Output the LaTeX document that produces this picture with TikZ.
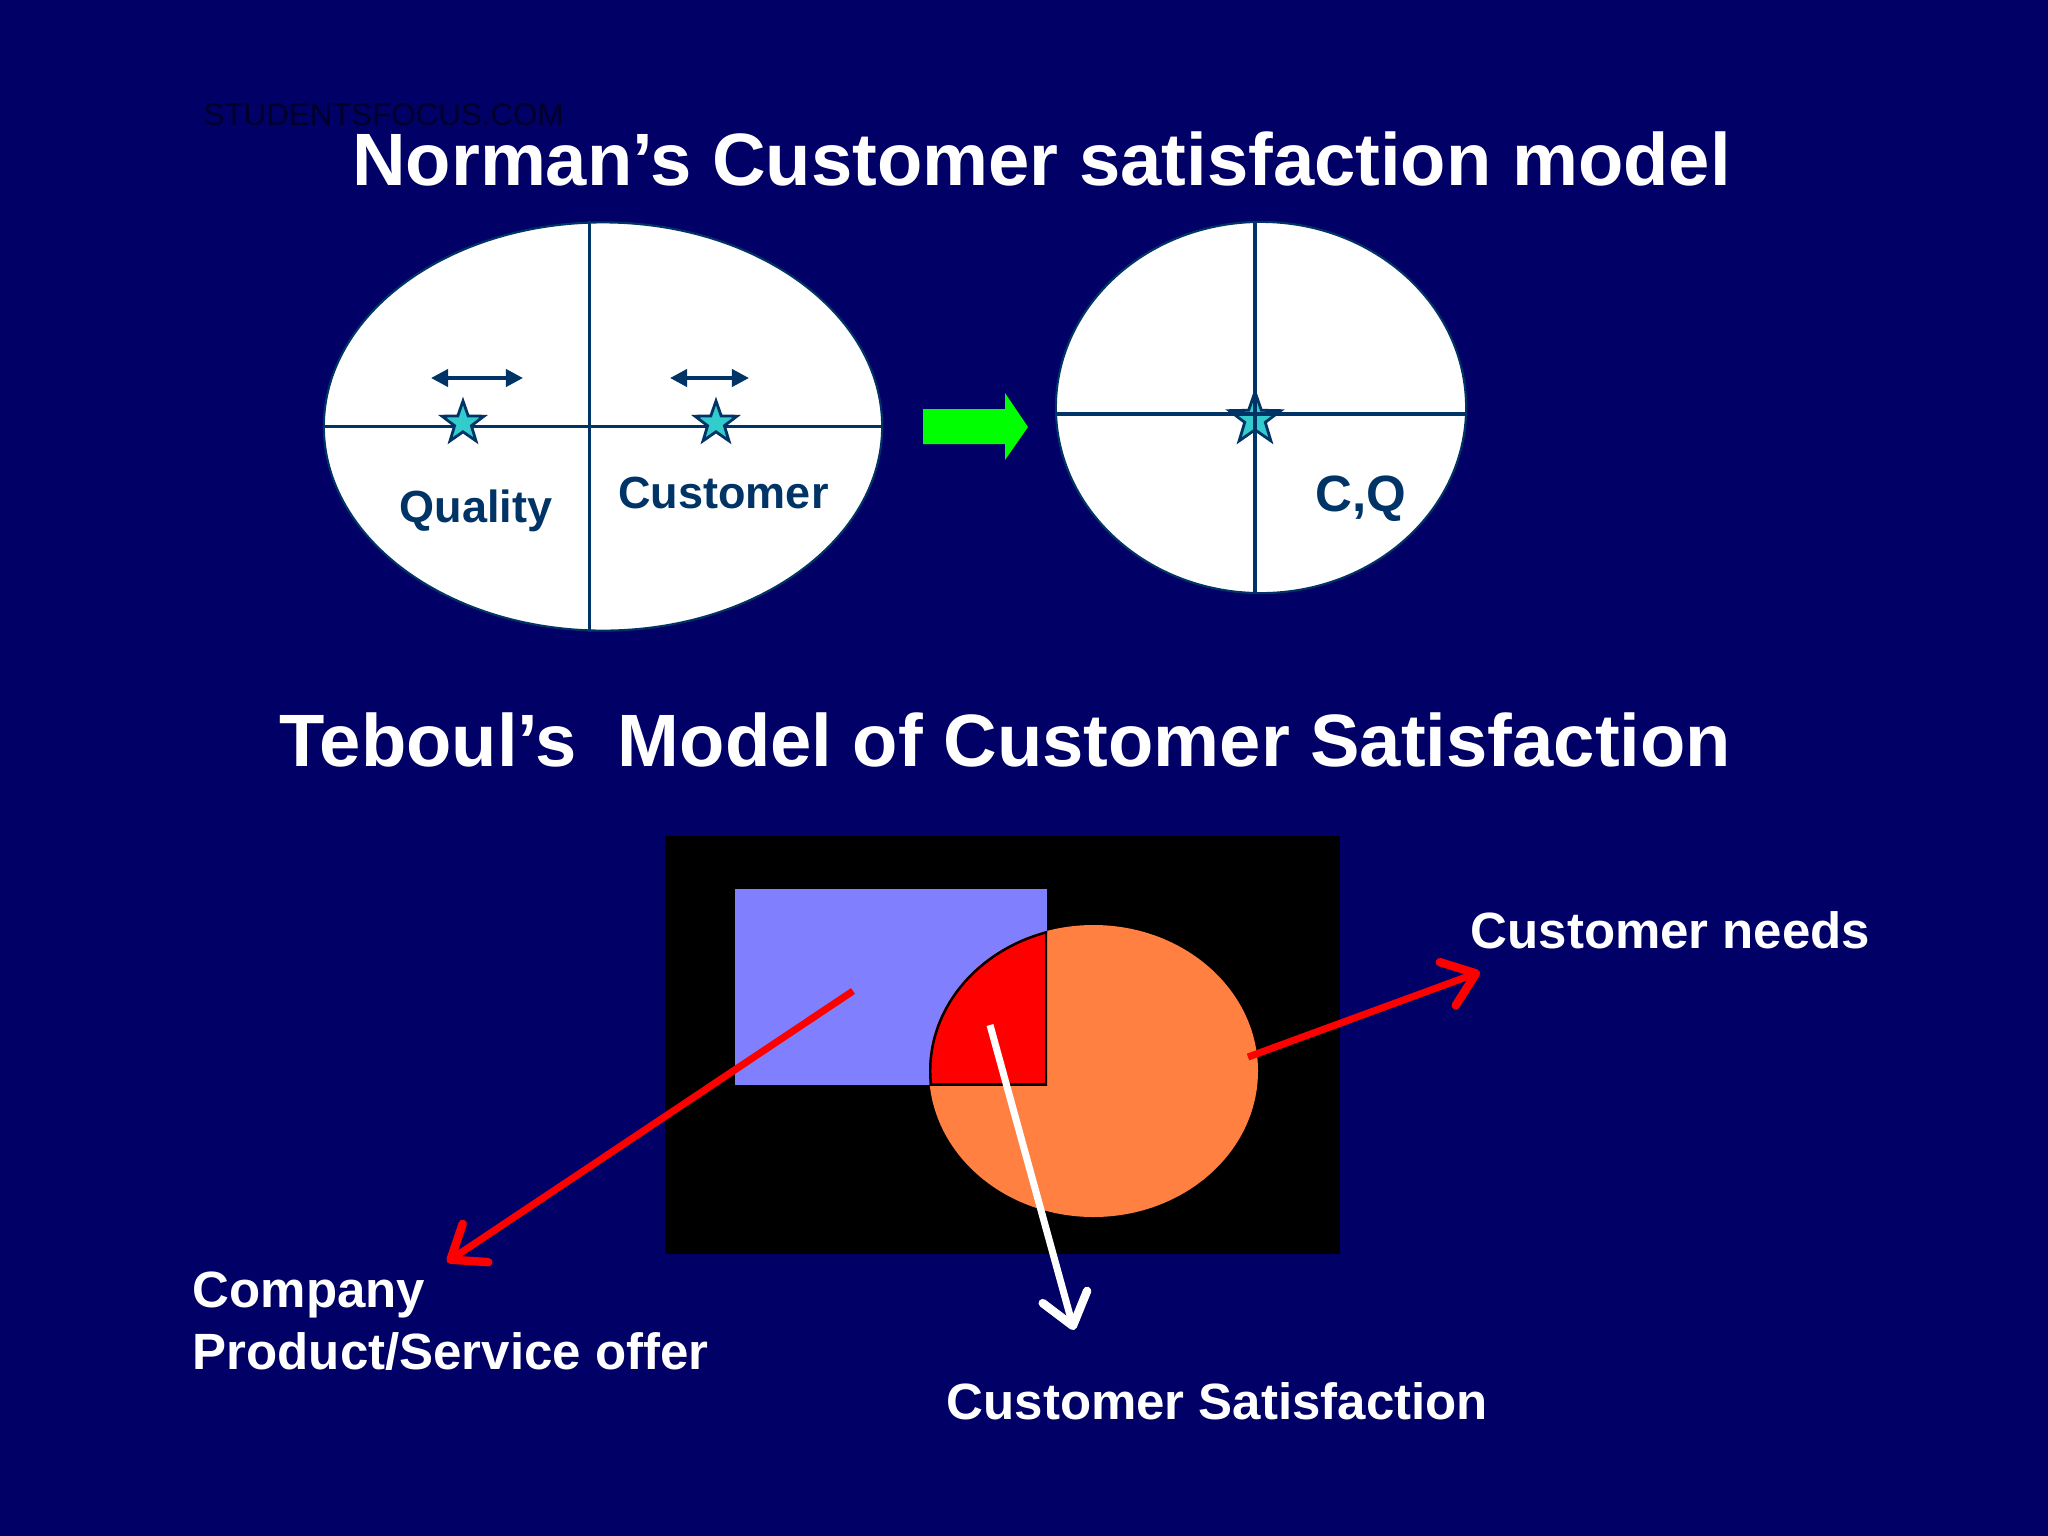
\documentclass[tikz,border=0pt]{standalone}
\usepackage{fontspec}
\setmainfont{Liberation Sans}
\usetikzlibrary{arrows.meta,shapes.geometric}
\definecolor{slidebg}{RGB}{0,0,102}
\definecolor{inknavy}{RGB}{0,51,102}
\definecolor{starcyan}{RGB}{51,204,204}
\definecolor{offerblue}{RGB}{128,128,255}
\definecolor{needsorange}{RGB}{255,128,64}
\definecolor{markgray}{RGB}{0,0,40}
\begin{document}
\begin{tikzpicture}[x=0.01cm,y=-0.01cm,
    headline/.style={text=white,font=\bfseries\fontsize{21.1}{25}\selectfont,inner sep=0pt,anchor=base},
    sidetext/.style={text=white,font=\bfseries\fontsize{14.5}{17}\selectfont,inner sep=0pt,anchor=base west},
    quadlabel/.style={text=inknavy,font=\bfseries\fontsize{12.8}{15}\selectfont,inner sep=0pt,anchor=base},
    oval/.style={ellipse,draw=inknavy,fill=white,line width=0.6pt,inner sep=0pt},
    quadline/.style={inknavy,line width=0.9pt},
    starmark/.style={star,star points=5,star point ratio=2.5,draw=inknavy,fill=starcyan,line width=0.8pt,inner sep=0pt},
    twoway/.style={inknavy,line width=1.1pt,{Triangle[length=1.7mm,width=1.7mm]}-{Triangle[length=1.7mm,width=1.7mm]}},
    leadarrow/.style={line width=2pt,-{Straight Barb[length=3mm,width=4.6mm,line width=2.4pt,round]}}
  ]
  \useasboundingbox (0,0) rectangle (2048,1536);
  \fill[slidebg] (0,0) rectangle (2048,1536);

  % titles
  \node[text=markgray,font=\fontsize{8.9}{10}\selectfont,inner sep=0pt,anchor=base west] (watermark) at (203,125) {STUDENTSFOCUS.COM};
  \node[headline] (normantitle) at (1041.5,185) {Norman’s Customer satisfaction model};
  \node[headline] (teboultitle) at (1005.5,766) {Teboul’s\ \ Model of Customer Satisfaction};

  % Norman: two separate views
  \node[oval,minimum width=5.58cm,minimum height=4.08cm] (norman) at (603,426.5) {};
  \draw[quadline] (norman.west) -- (norman.east);
  \draw[quadline] ([xshift=-0.135cm]norman.north) -- ([xshift=-0.135cm]norman.south);
  \node[starmark,minimum size=0.44cm] (starQ) at (463,423) {};
  \node[starmark,minimum size=0.44cm] (starC) at (716,423) {};
  \coordinate (qleft) at (431,378);
  \coordinate (qright) at (523,378);
  \coordinate (cleft) at (670,378);
  \coordinate (cright) at (749,378);
  \draw[twoway] (qleft) -- (qright);
  \draw[twoway] (cleft) -- (cright);
  \node[quadlabel] (quality) at (476,522) {Quality};
  \node[quadlabel] (customer) at (723.5,508) {Customer};

  \fill[green] (923,409) -- (1005,409) -- (1005,393) -- (1028,427) -- (1005,460) -- (1005,444) -- (923,444) -- cycle;

  % Norman: merged view
  \node[oval,minimum width=4.10cm,minimum height=3.71cm] (merged) at (1261,407.5) {};
  \node[starmark,minimum size=0.54cm] (starCQ) at (1255,419) {};
  \draw[quadline] ([yshift=-0.065cm]merged.west) -- ([yshift=-0.065cm]merged.east);
  \draw[quadline] ([xshift=-0.06cm]merged.north) -- ([xshift=-0.06cm]merged.south);
  \node[quadlabel,font=\bfseries\fontsize{14.5}{16}\selectfont] (cq) at (1361,511) {C,Q};

  % Teboul
  \fill[black] (665,836) rectangle (1340,1254);
  \fill[offerblue] (735,889) rectangle (1047,1085);
  \fill[needsorange] (1093.5,1071) ellipse [x radius=164.5, y radius=146];
  \begin{scope}
    \clip (735,889) rectangle (1047,1085);
    \clip (1093.5,1071) ellipse [x radius=164.5, y radius=146];
    \fill[red] (735,889) rectangle (1047,1085);
    \draw[black,line width=1.4pt] (735,889) rectangle (1047,1085);
    \draw[black,line width=1.4pt] (1093.5,1071) ellipse [x radius=164.5, y radius=146];
  \end{scope}

  \coordinate (offerfrom) at (853,991);
  \coordinate (offerto) at (447,1262);
  \coordinate (needsfrom) at (1248,1057);
  \coordinate (needsto) at (1480,972);
  \coordinate (satfrom) at (990,1025);
  \coordinate (satto) at (1074,1330);
  \draw[leadarrow,red] (offerfrom) -- (offerto);
  \draw[leadarrow,red] (needsfrom) -- (needsto);
  \draw[leadarrow,white] (satfrom) -- (satto);

  \node[sidetext] (needs) at (1470,948) {Customer needs};
  \node[sidetext] (offer) at (192,1307) {Company};
  \node[sidetext] (offerline) at (192,1369) {Product/Service offer};
  \node[sidetext] (satisfied) at (946,1419) {Customer Satisfaction};
\end{tikzpicture}
\end{document}
